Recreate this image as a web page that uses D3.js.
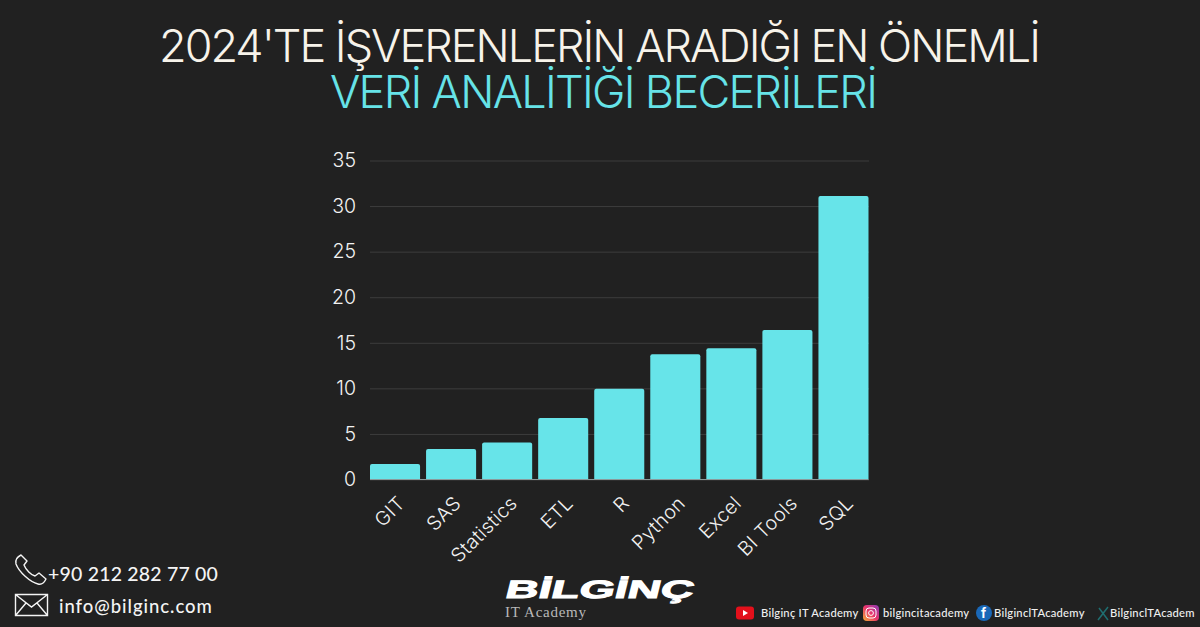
<!DOCTYPE html>
<html lang="tr"><head><meta charset="utf-8">
<script src="https://cdn.jsdelivr.net/npm/d3@7"></script>
<style>html,body{margin:0;padding:0;background:#212121}svg{display:block}text{font-family:Inter,sans-serif}</style>
</head><body><svg id="c" width="1200" height="627"></svg>
<script>
const categories=["GIT","SAS","Statistics","ETL","R","Python","Excel","BI Tools","SQL"];
const values=[1.7,3.35,4.05,6.75,9.95,13.75,14.4,16.4,31.1];
const yTicks=[0,5,10,15,20,25,30,35];
const titleLine1="2024'TE İŞVERENLERİN ARADIĞI EN ÖNEMLİ";
const titleLine2="VERİ ANALİTİĞİ BECERİLERİ";
const phone="+90 212 282 77 00";
const email="info@bilginc.com";
const socials=["Bilginç IT Academy","bilgincitacademy","BilginclTAcademy","BilginclTAcadem"];

const svg=d3.select("#c");
svg.append("rect").attr("width",1200).attr("height",627).attr("fill","#212121");
const title=(t,y,x0,x1,fill)=>svg.append("text").text(t).attr("x",x0).attr("y",y)
  .attr("textLength",x1-x0).attr("lengthAdjust","spacing")
  .attr("font-size",45).attr("font-weight",300).attr("fill",fill);
title(titleLine1,62,159,1041,"#f7f3ea");
title(titleLine2,108,330,878,"#66e3e8");

const x=d3.scaleBand().domain(categories).range([370,868.5]).paddingInner(0.107).paddingOuter(0);
const y=d3.scaleLinear().domain([0,35]).range([479.5,160.5]);

const gy=svg.append("g").attr("transform","translate(370,0)")
  .call(d3.axisLeft(y).tickValues(yTicks).tickSize(-499).tickPadding(14));
gy.select(".domain").remove();
gy.selectAll(".tick line").attr("stroke","#3d3d3d").attr("stroke-width",1);
gy.selectAll(".tick text").attr("fill","#f2f2f2").attr("font-size",19.5).attr("font-weight",300).style("font-family","Inter");

const r=2;
svg.append("g").selectAll("path").data(categories).join("path")
  .attr("fill","#67e4e9")
  .attr("d",(c,i)=>{
    const p=d3.path(),a=x(c),b=a+x.bandwidth(),t=y(values[i]),z=y(0);
    p.moveTo(a,z);p.lineTo(a,t+r);p.quadraticCurveTo(a,t,a+r,t);
    p.lineTo(b-r,t);p.quadraticCurveTo(b,t,b,t+r);p.lineTo(b,z);p.closePath();return p.toString();
  });
svg.append("line").attr("x1",370).attr("x2",868.5).attr("y1",y(0)).attr("y2",y(0)).attr("stroke","#8a9a9b").attr("stroke-width",1);

const gx=svg.append("g").attr("transform",`translate(0,${y(0)})`)
  .call(d3.axisBottom(x).tickSize(0));
gx.select(".domain").remove();
gx.selectAll(".tick text").attr("fill","#f2f2f2").attr("font-size",19.5).attr("font-weight",300).style("font-family","Inter")
  .attr("text-anchor","end").attr("dx",0).attr("dy",0).attr("letter-spacing",0.3)
  .attr("transform","translate(9,23) rotate(-45)");

/* footer */
const foot="'Lato',sans-serif";
svg.append("text").text(phone).attr("x",48).attr("y",581).attr("font-size",19.5).attr("font-weight",500).attr("fill","#f4f4f4").attr("letter-spacing",0.2).style("font-family",foot);
svg.append("text").text(email).attr("x",59).attr("y",613).attr("font-size",18.5).attr("font-weight",500).attr("fill","#f4f4f4").attr("letter-spacing",0.95).style("font-family",foot);
svg.append("path").attr("fill","none").attr("stroke","#f4f4f4").attr("stroke-width",1.4).attr("stroke-linejoin","round")
  .attr("d","M21 555 C17 557 15 560 16 564 C19 572 30 582 38 584 C41 585 44 583 46 579 L39 573 L35 576 C31 575 26 570 24 565 L27 561 Z");
svg.append("path").attr("fill","none").attr("stroke","#f4f4f4").attr("stroke-width",1.4)
  .attr("d","M15.5 594.5 H47.5 V615.5 H15.5 Z M15.5 594.5 L31.5 607 L47.5 594.5 M15.5 615.5 L26 603 M47.5 615.5 L37 603");

/* logo */
svg.append("text").text("BİLGİNÇ").attr("transform","translate(504,598) skewX(-14)").attr("textLength",188).attr("lengthAdjust","spacingAndGlyphs")
  .attr("font-size",25).attr("font-weight",700).attr("fill","#ffffff").style("font-family","'Liberation Sans',Roboto,sans-serif")
  .attr("stroke","#ffffff").attr("stroke-width",1);
svg.append("text").text("IT Academy").attr("x",505).attr("y",617).attr("font-size",15).attr("fill","#b9b9b9").attr("letter-spacing",0.75).style("font-family","'Liberation Serif',serif");

/* social row */
const sx=[761,883,994,1110];
svg.append("g").selectAll("text").data(socials).join("text").text(d=>d)
  .attr("x",(d,i)=>sx[i]).attr("y",617).attr("font-size",11.2).attr("font-weight",500).attr("fill","#f0f0f0").attr("letter-spacing",0.25).style("font-family",foot);
svg.append("rect").attr("x",736).attr("y",606.5).attr("width",18).attr("height",13).attr("rx",3).attr("fill","#e3101b");
svg.append("path").attr("d","M743 610 L743 616 L748 613 Z").attr("fill","#fff");
const defs=svg.append("defs");
const g=defs.append("linearGradient").attr("id","ig").attr("x1",0).attr("y1",1).attr("x2",1).attr("y2",0);
g.append("stop").attr("offset","0").attr("stop-color","#f9b233");
g.append("stop").attr("offset",".5").attr("stop-color","#e8336b");
g.append("stop").attr("offset","1").attr("stop-color","#8a3ab9");
svg.append("rect").attr("x",863).attr("y",605).attr("width",16).attr("height",16).attr("rx",4).attr("fill","url(#ig)");
svg.append("rect").attr("x",866).attr("y",608).attr("width",10).attr("height",10).attr("rx",3).attr("fill","none").attr("stroke","#fff").attr("stroke-width",1);
svg.append("circle").attr("cx",871).attr("cy",613).attr("r",2.4).attr("fill","none").attr("stroke","#fff").attr("stroke-width",1);
svg.append("circle").attr("cx",984).attr("cy",613).attr("r",8).attr("fill","#1a68b8");
svg.append("text").text("f").attr("x",981).attr("y",618).attr("font-size",13).attr("font-weight",700).attr("fill","#fff");
svg.append("path").attr("fill","none").attr("stroke","#1f6e70").attr("stroke-width",1.5).attr("d","M1099 608 L1108 620 M1108 607 L1098 620");
</script></body></html>
